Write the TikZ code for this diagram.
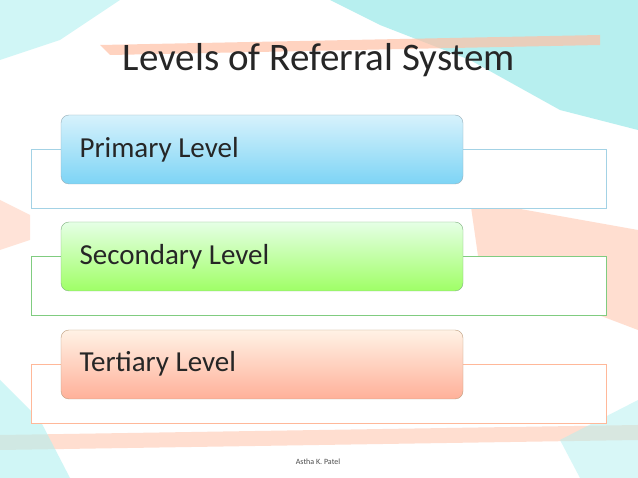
\documentclass[tikz,border=0pt]{standalone}
\usepackage{fontspec}
\setmainfont{Carlito}
\definecolor{skyb}{RGB}{125,212,245}
\definecolor{skyt}{RGB}{215,242,252}
\begin{document}
\begin{tikzpicture}[x=1pt,y=-1pt,
  outer/.style={draw=#1,line width=0.8pt,fill=white},
  lbl/.style={anchor=west,font=\fontsize{29}{33}\selectfont,text=black!85}]
\useasboundingbox (0,0) rectangle (638,478);
\fill[white] (0,0) rectangle (638,478);
% background brush strokes
\fill[teal!45!cyan!35,opacity=0.8] (330,0) -- (638,0) -- (638,130) -- (560,110) -- (470,60) -- (380,25) -- cycle;
\fill[teal!40!cyan!30,opacity=0.6] (0,0) -- (120,0) -- (60,40) -- (0,60) -- cycle;
\fill[red!40!orange!35,opacity=0.7] (100,45) -- (600,35) -- (600,45) -- (110,55) -- cycle;
\fill[red!40!orange!30,opacity=0.6] (470,200) -- (638,230) -- (638,330) -- (480,270) -- cycle;
\fill[red!40!orange!30,opacity=0.6] (0,435) -- (638,425) -- (638,440) -- (0,450) -- cycle;
\fill[teal!40!cyan!30,opacity=0.6] (0,380) -- (40,420) -- (70,478) -- (0,478) -- cycle;
\fill[teal!40!cyan!30,opacity=0.5] (560,440) -- (638,400) -- (638,478) -- (580,478) -- cycle;
\fill[red!40!orange!30,opacity=0.5] (0,200) -- (30,215) -- (30,240) -- (0,250) -- cycle;

\node[font=\fontsize{39}{43}\selectfont,text=black!85] (title) at (319,60) {Levels of Referral System};

\draw[outer=cyan!50!teal!40] (31,149) rectangle (606,208);
\shade[top color=skyt,bottom color=skyb,draw=cyan!40!black!50,rounded corners=8pt] (61,115) rectangle (463,184);
\node[lbl] (p) at (76,150) {Primary Level};

\draw[outer=green!60!black!50] (31,256) rectangle (606,315);
\shade[top color=green!10,bottom color=green!50!lime!60,draw=green!40!black!50,rounded corners=8pt] (61,222) rectangle (463,291);
\node[lbl] (s) at (76,257) {Secondary Level};

\draw[outer=orange!60!red!40] (31,364) rectangle (606,423);
\shade[top color=orange!10,bottom color=orange!45!red!40,draw=orange!50!black!50,rounded corners=8pt] (61,330) rectangle (463,399);
\node[lbl] (t) at (76,364) {Tertiary Level};

\node[font=\fontsize{8}{10}\selectfont,text=black!70] (f) at (318,462) {Astha K. Patel};
\end{tikzpicture}
\end{document}
